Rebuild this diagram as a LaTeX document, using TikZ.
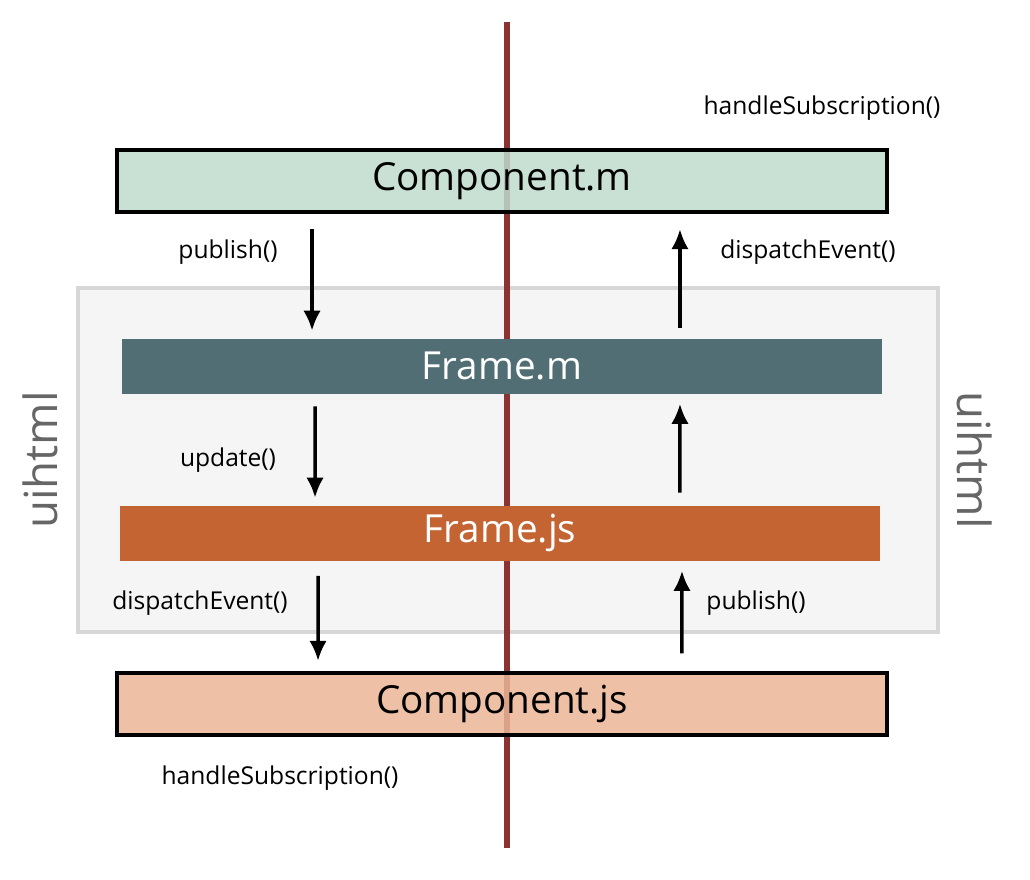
\documentclass[tikz,border=0pt]{standalone}
\usepackage{fontspec}
\setmainfont{Open Sans}
\usetikzlibrary{arrows.meta}
\definecolor{divider}{RGB}{140,50,50}
\definecolor{comp-m}{RGB}{190,220,205}
\definecolor{frame-m}{RGB}{80,110,115}
\definecolor{frame-js}{RGB}{195,100,50}
\definecolor{comp-js}{RGB}{235,182,150}
\definecolor{uihtml-grey}{RGB}{215,215,215}
\tikzset{
  comp-box/.style={
    draw=black,
    line width=2.5pt,
    minimum width=15.4cm,
    minimum height=1.24cm,
    font=\fontsize{22}{24}\selectfont
  },
  frame-bar/.style={
    minimum width=15.2cm,
    minimum height=1.1cm,
    text=white,
    font=\fontsize{22}{24}\selectfont
  },
  call/.style={
    line width=2pt,
    -{Latex[length=4mm,width=3.5mm]}
  },
  call-label/.style={
    font=\fontsize{14}{16}\selectfont
  },
}
\begin{document}
\begin{tikzpicture}[x=0.02cm,y=-0.02cm]
  \useasboundingbox (0,0) rectangle (1030,879);

  % uihtml container
  \node[draw=uihtml-grey, line width=2pt, fill=gray!8, minimum width=17.2cm,
    minimum height=6.88cm] (uihtml) at (508,460) {};
  \node[rotate=90, text=gray!80!black, font=\fontsize{26}{28}\selectfont]
    (uihtml-left) at (40,460) {uihtml};
  \node[rotate=-90, text=gray!80!black, font=\fontsize{26}{28}\selectfont]
    (uihtml-right) at (975,460) {uihtml};

  % divider
  \coordinate (div-top) at (507,22);
  \coordinate (div-bottom) at (507,848);
  \draw[divider, line width=3pt] (div-top) -- (div-bottom);

  % layers
  \node[comp-box, fill=comp-m, fill opacity=0.85, text opacity=1] (comp-m) at (502,181) {Component.m};
  \node[frame-bar, fill=frame-m] (frame-m) at (502,366) {Frame.m};
  \node[frame-bar, fill=frame-js] (frame-js) at (500,533) {Frame.js};
  \node[comp-box, fill=comp-js, fill opacity=0.85, text opacity=1] (comp-js) at (502,704) {Component.js};

  % downward calls
  \draw[call] ([xshift=-3.8cm, yshift=-0.3cm]comp-m.south) -- ([xshift=-3.8cm, yshift=0.15cm]frame-m.north);
  \draw[call] ([xshift=-3.74cm, yshift=-0.25cm]frame-m.south) -- ([xshift=-3.7cm, yshift=0.15cm]frame-js.north);
  \draw[call] ([xshift=-3.64cm, yshift=-0.3cm]frame-js.south) -- ([xshift=-3.68cm, yshift=0.2cm]comp-js.north);

  % upward calls
  \draw[call] ([xshift=3.6cm, yshift=0.25cm]frame-js.north) -- ([xshift=3.56cm, yshift=-0.2cm]frame-m.south);
  \draw[call] ([xshift=3.6cm, yshift=0.35cm]comp-js.north) -- ([xshift=3.64cm, yshift=-0.2cm]frame-js.south);
  \draw[call] ([xshift=3.56cm, yshift=0.2cm]frame-m.north) -- ([xshift=3.56cm, yshift=-0.3cm]comp-m.south);

  % labels
  \node[call-label] (lbl-handle-top) at (822,108) {handleSubscription()};
  \node[call-label] (lbl-publish-top) at (228,252) {publish()};
  \node[call-label] (lbl-dispatch-top) at (808,252) {dispatchEvent()};
  \node[call-label] (lbl-update) at (228,460) {update()};
  \node[call-label] (lbl-dispatch-bottom) at (200,603) {dispatchEvent()};
  \node[call-label] (lbl-publish-bottom) at (756,603) {publish()};
  \node[call-label] (lbl-handle-bottom) at (280,778) {handleSubscription()};

\end{tikzpicture}
\end{document}
